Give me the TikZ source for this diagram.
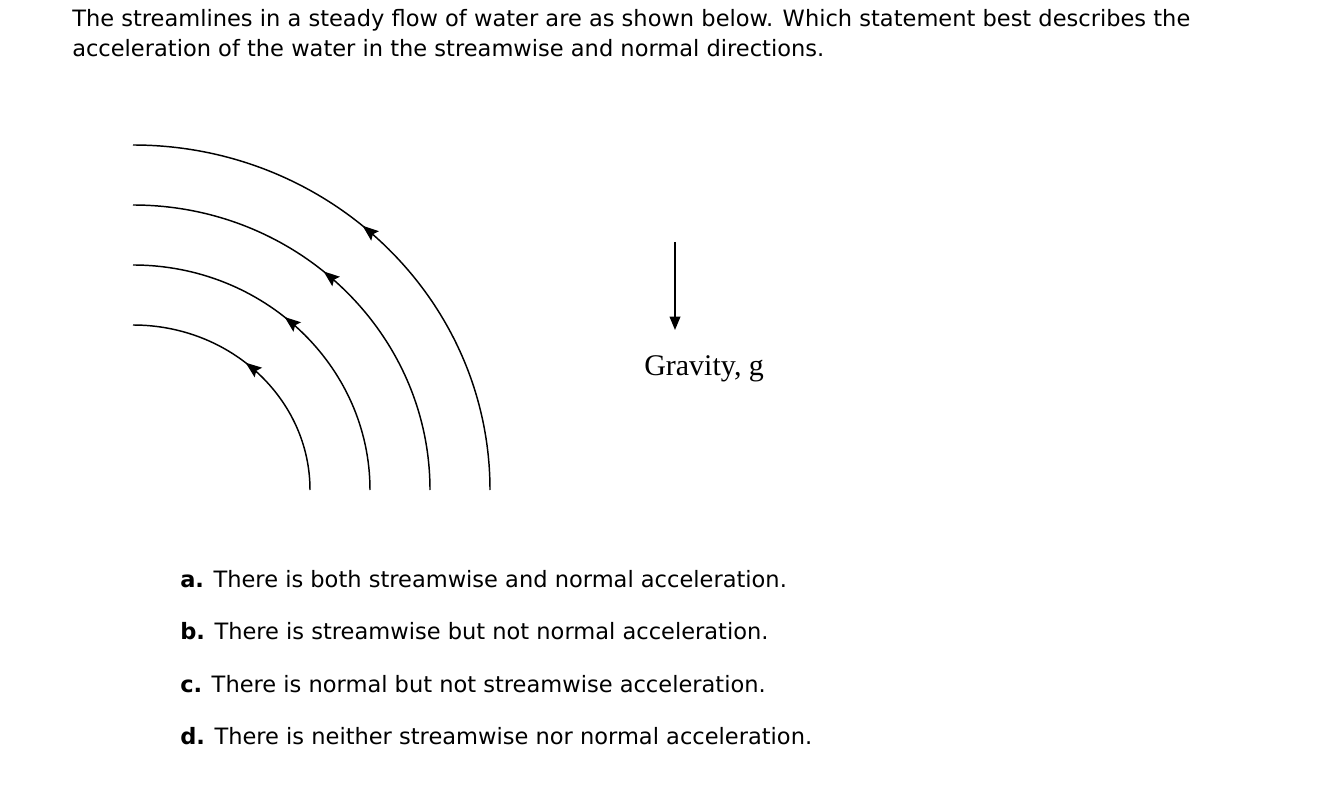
\documentclass[tikz,border=0pt]{standalone}
\usepackage{fontspec}
\setmainfont{DejaVu Sans}
\newfontfamily\serifg{Liberation Serif}
\usetikzlibrary{decorations.markings,arrows.meta}
\begin{document}
\begin{tikzpicture}[x=0.75pt,y=-0.75pt,
  txt/.style={anchor=base west,inner sep=0pt,font=\fontsize{16.9}{22.5}\selectfont},
  sline/.style={line width=1.1pt,postaction={decorate},decoration={markings,
    mark=at position 0.55 with {\arrow{Stealth[length=12pt,width=9pt,inset=2pt]}}}}]
\useasboundingbox (0,0) rectangle (1321,791);
\node[txt] (q1) at (72,27) {The streamlines in a steady flow of water are as shown below. Which statement best describes the};
\node[txt] (q2) at (72,57) {acceleration of the water in the streamwise and normal directions.};
\foreach \rx/\ry in {177/165,237/225,297/285,357/345}{
  \draw[sline] (133+\rx,490) arc[start angle=0,end angle=-90,x radius=\rx,y radius=\ry];
}
\coordinate (g1) at (675,242);
\coordinate (g2) at (675,330);
\draw[line width=1.1pt,-{Triangle[length=10pt,width=8pt]}] (g1) -- (g2);
\node[anchor=base west,inner sep=0pt,font=\serifg\fontsize{22.5}{24}\selectfont] (gl) at (644,376) {Gravity, g};
\node[txt] (a) at (180,587) {\textbf{a.} There is both streamwise and normal acceleration.};
\node[txt] (b) at (180,639) {\textbf{b.} There is streamwise but not normal acceleration.};
\node[txt] (c) at (180,692) {\textbf{c.} There is normal but not streamwise acceleration.};
\node[txt] (d) at (180,744) {\textbf{d.} There is neither streamwise nor normal acceleration.};
\end{tikzpicture}
\end{document}
